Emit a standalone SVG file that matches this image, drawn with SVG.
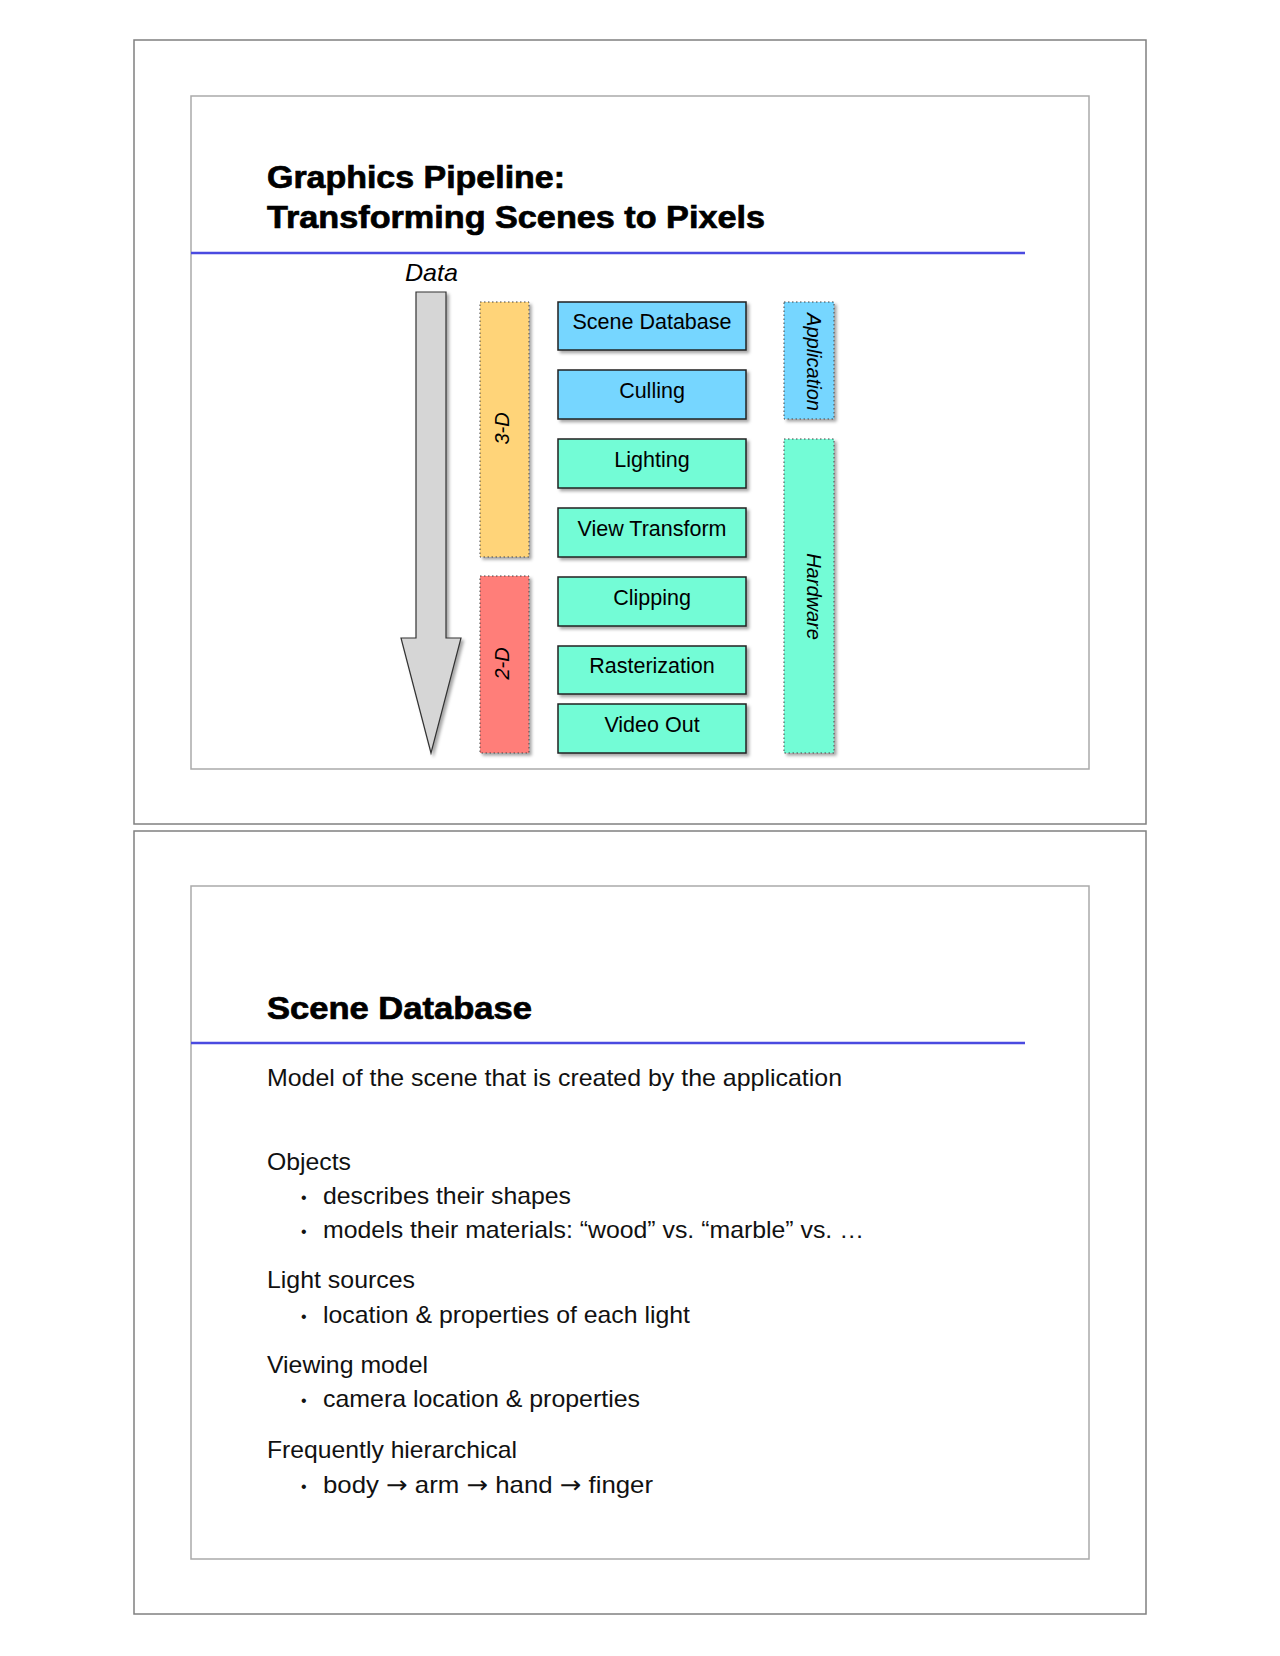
<svg xmlns="http://www.w3.org/2000/svg" width="1280" height="1656" viewBox="0 0 1280 1656">
<defs>
<filter id="sh" x="-20%" y="-20%" width="140%" height="140%">
<feDropShadow dx="2.5" dy="2.5" stdDeviation="1.5" flood-color="#000" flood-opacity="0.35"/>
</filter>
</defs>
<style>
.outer{fill:#fff;stroke:#808080;stroke-width:1.5}
.inner{fill:#fff;stroke:#aaa;stroke-width:1.5}
.rule{stroke:#4a4ae0;stroke-width:2.5}
.title{font-family:"Liberation Sans",Arial,sans-serif;font-weight:bold;font-size:31px;fill:#000;stroke:#000;stroke-width:0.7}
.body{font-family:"Liberation Sans",Arial,sans-serif;font-size:24px;fill:#111}
.arr{font-family:"DejaVu Sans",sans-serif}
.bul{font-family:"Liberation Sans",Arial,sans-serif;font-size:16px;fill:#111}
.box{stroke:#222;stroke-width:1.5;filter:url(#sh)}
.band{stroke:#444;stroke-width:1;stroke-dasharray:1.5 2.5;filter:url(#sh)}
.lbl{font-family:"Liberation Sans",Arial,sans-serif;font-size:21.5px;fill:#000;text-anchor:middle}
.vl{font-family:"Liberation Sans",Arial,sans-serif;font-size:20px;font-style:italic;fill:#000;text-anchor:middle}
.blue{fill:#76d6ff}
.green{fill:#73fcd6}
.yellow{fill:#ffd479}
.red{fill:#ff7e79}
</style>
<g id="page1">
<rect class="outer" x="134" y="40" width="1012" height="784"/>
<rect class="inner" x="191" y="96" width="898" height="673"/>
<line class="rule" x1="191" y1="253" x2="1025" y2="253"/>
<text class="title" x="267" y="188" textLength="298" lengthAdjust="spacingAndGlyphs">Graphics Pipeline:</text>
<text class="title" x="267" y="228" textLength="498" lengthAdjust="spacingAndGlyphs">Transforming Scenes to Pixels</text>
</g>
<g id="data-arrow">
<polygon points="416,292 446,292 446,638 461,638 431,753 401,638 416,638" fill="#d6d6d6" stroke="#333" stroke-width="1.2" filter="url(#sh)"/>
<text x="405" y="281" font-family="'Liberation Sans',Arial,sans-serif" font-size="24" font-style="italic" textLength="53" lengthAdjust="spacingAndGlyphs">Data</text>
</g>
<g id="band-3d">
<rect class="band yellow" x="480" y="302" width="49" height="255"/>
<text class="vl" transform="translate(509,428.5) rotate(-90)">3-D</text>
</g>
<g id="band-2d">
<rect class="band red" x="480" y="576" width="49" height="177"/>
<text class="vl" transform="translate(509,663.5) rotate(-90)">2-D</text>
</g>
<g id="band-application">
<rect class="band blue" x="784" y="302" width="50" height="117"/>
<text class="vl" transform="translate(807,362) rotate(90)">Application</text>
</g>
<g id="band-hardware">
<rect class="band green" x="784" y="439" width="50" height="314"/>
<text class="vl" transform="translate(807,596.5) rotate(90)">Hardware</text>
</g>
<g id="scene-database">
<rect class="box blue" x="558" y="302" width="188" height="48"/>
<text class="lbl" x="652" y="329">Scene Database</text>
</g>
<g id="culling">
<rect class="box blue" x="558" y="370" width="188" height="49"/>
<text class="lbl" x="652" y="397.5">Culling</text>
</g>
<g id="lighting">
<rect class="box green" x="558" y="439" width="188" height="49"/>
<text class="lbl" x="652" y="466.5">Lighting</text>
</g>
<g id="view-transform">
<rect class="box green" x="558" y="508" width="188" height="49"/>
<text class="lbl" x="652" y="535.5">View Transform</text>
</g>
<g id="clipping">
<rect class="box green" x="558" y="577" width="188" height="49"/>
<text class="lbl" x="652" y="604.5">Clipping</text>
</g>
<g id="rasterization">
<rect class="box green" x="558" y="646" width="188" height="48"/>
<text class="lbl" x="652" y="673">Rasterization</text>
</g>
<g id="video-out">
<rect class="box green" x="558" y="704" width="188" height="49"/>
<text class="lbl" x="652" y="731.5">Video Out</text>
</g>
<g id="connectors"></g>
<g id="page2">
<rect class="outer" x="134" y="831" width="1012" height="783"/>
<rect class="inner" x="191" y="886" width="898" height="673"/>
<line class="rule" x1="191" y1="1043" x2="1025" y2="1043"/>
<text class="title" x="267" y="1019" textLength="265" lengthAdjust="spacingAndGlyphs">Scene Database</text>
<text class="body" x="267" y="1086" textLength="575" lengthAdjust="spacingAndGlyphs">Model of the scene that is created by the application</text>
<text class="body" x="267" y="1170" textLength="84" lengthAdjust="spacingAndGlyphs">Objects</text>
<text class="bul" x="301" y="1203">•</text>
<text class="body" x="323" y="1204" textLength="248" lengthAdjust="spacingAndGlyphs">describes their shapes</text>
<text class="bul" x="301" y="1237">•</text>
<text class="body" x="323" y="1238" textLength="541" lengthAdjust="spacingAndGlyphs">models their materials: “wood”  vs. “marble” vs. …</text>
<text class="body" x="267" y="1288" textLength="148" lengthAdjust="spacingAndGlyphs">Light sources</text>
<text class="bul" x="301" y="1322">•</text>
<text class="body" x="323" y="1323" textLength="367" lengthAdjust="spacingAndGlyphs">location &amp; properties of each light</text>
<text class="body" x="267" y="1373" textLength="161" lengthAdjust="spacingAndGlyphs">Viewing model</text>
<text class="bul" x="301" y="1406">•</text>
<text class="body" x="323" y="1407" textLength="317" lengthAdjust="spacingAndGlyphs">camera location &amp; properties</text>
<text class="body" x="267" y="1458" textLength="250" lengthAdjust="spacingAndGlyphs">Frequently hierarchical</text>
<text class="bul" x="301" y="1492">•</text>
<text class="body" x="323" y="1493" textLength="330" lengthAdjust="spacingAndGlyphs">body <tspan class="arr">→</tspan> arm <tspan class="arr">→</tspan> hand <tspan class="arr">→</tspan> finger</text>
</g>
</svg>
